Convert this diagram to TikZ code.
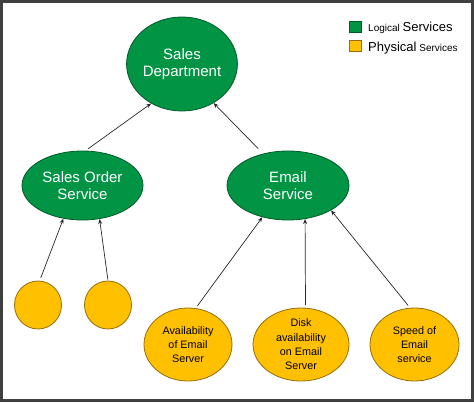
\documentclass[tikz,border=0pt]{standalone}
\usepackage{fontspec}
\setmainfont{Liberation Sans}
\usetikzlibrary{shapes.geometric,arrows.meta}
\definecolor{svcgreen}{RGB}{0,148,68}
\definecolor{svcgreenline}{RGB}{0,90,40}
\definecolor{svcorange}{RGB}{255,192,0}
\definecolor{svcorangeline}{RGB}{150,110,10}
\definecolor{framegray}{RGB}{64,64,64}
\definecolor{linkgray}{RGB}{40,40,40}

\begin{document}
\begin{tikzpicture}[x=1pt, y=-1pt,
  logical/.style={draw=svcgreenline, fill=svcgreen, line width=0.8pt, ellipse, inner sep=0pt, text=white, align=center, font=\fontsize{15}{17.4}\selectfont},
  physical/.style={draw=svcorangeline, fill=svcorange, line width=0.8pt, ellipse, inner sep=0pt, align=center, font=\fontsize{10.8}{14.3}\selectfont},
  link/.style={-{Stealth[length=5pt,width=4pt]}, draw=linkgray, line width=0.7pt, shorten <=3pt}]
% frame
\useasboundingbox (0,0) rectangle (474,403);
\draw[framegray, line width=3pt] (1.5,1.5) rectangle (472.5,400.5);

% service tree
\node[logical, minimum width=102pt, minimum height=94pt] (dept) at (182,64) {Sales\\Department};
\node[logical, minimum width=121pt, minimum height=69pt] (order) at (82.5,185.5) {Sales Order\\Service};
\node[logical, minimum width=122pt, minimum height=69pt] (email) at (288,185.5) {Email\\Service};
\node[physical, minimum width=47pt, minimum height=48pt] (phyA) at (38,305) {};
\node[physical, minimum width=47pt, minimum height=48pt] (phyB) at (108,305) {};
\node[physical, minimum width=88pt, minimum height=73pt] (avail) at (188,344.5) {Availability\\of Email\\Server};
\node[physical, minimum width=96pt, minimum height=73pt] (disk) at (301,344.5) {Disk\\availability\\on Email\\Server};
\node[physical, minimum width=89pt, minimum height=73pt] (speed) at (414.5,344.5) {Speed of\\Email\\service};

\draw[link] (order.85) -- (dept.232);
\draw[link, shorten <=7pt] (email.128) -- (dept.309);
\draw[link] (phyA.86) -- (order.240);
\draw[link, shorten <=1pt] (phyB.90) -- (order.297);
\draw[link] (avail.78) -- (email.231);
\draw[link] (disk.83) -- (email.297);
\draw[link] (speed.97) -- (email.330);

% legend
\node[draw=svcgreenline, fill=svcgreen, minimum width=12pt, minimum height=11pt, inner sep=0pt] (keyL) at (355,26.5) {};
\node[draw=svcorangeline, fill=svcorange, minimum width=12pt, minimum height=11pt, inner sep=0pt] (keyP) at (355,46) {};
\node[anchor=base west, inner sep=0pt] (txtL) at (368,31.5) {{\fontsize{10}{12}\selectfont Logical} {\fontsize{13}{15}\selectfont Services}};
\node[anchor=base west, inner sep=0pt] (txtP) at (368,52) {{\fontsize{13}{15}\selectfont Physical} {\fontsize{10}{12}\selectfont Services}};
\end{tikzpicture}
\end{document}
